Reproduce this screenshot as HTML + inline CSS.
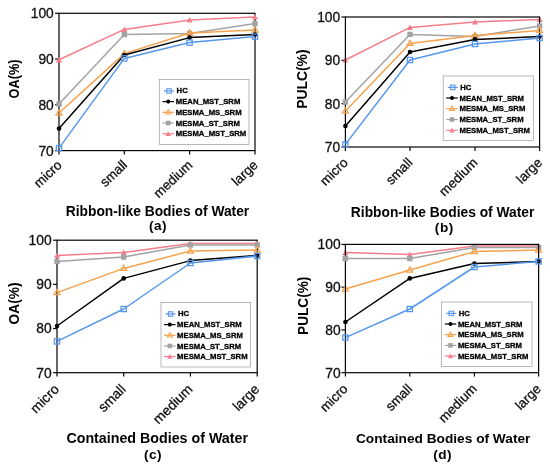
<!DOCTYPE html>
<html><head><meta charset="utf-8"><title>Figure</title>
<style>html,body{margin:0;padding:0;background:#fff}svg{display:block}text{font-family:"Liberation Sans",Arial,sans-serif}</style></head><body>
<svg width="550" height="471" viewBox="0 0 550 471">
<rect width="550" height="471" fill="#fff"/>
<g id="chart-a">
<rect x="59" y="13.3" width="196.00" height="137.30" fill="none" stroke="#050505" stroke-width="1.2"/>
<line x1="55.10" y1="13.30" x2="59.00" y2="13.30" stroke="#050505" stroke-width="1.2"/>
<text x="53.80" y="18.25" font-size="13.8" text-anchor="end" fill="#111111" stroke="#111111" stroke-width="0.3">100</text>
<line x1="55.10" y1="59.07" x2="59.00" y2="59.07" stroke="#050505" stroke-width="1.2"/>
<text x="53.80" y="64.02" font-size="13.8" text-anchor="end" fill="#111111" stroke="#111111" stroke-width="0.3">90</text>
<line x1="55.10" y1="104.83" x2="59.00" y2="104.83" stroke="#050505" stroke-width="1.2"/>
<text x="53.80" y="109.78" font-size="13.8" text-anchor="end" fill="#111111" stroke="#111111" stroke-width="0.3">80</text>
<line x1="55.10" y1="150.60" x2="59.00" y2="150.60" stroke="#050505" stroke-width="1.2"/>
<text x="53.80" y="155.55" font-size="13.8" text-anchor="end" fill="#111111" stroke="#111111" stroke-width="0.3">70</text>
<line x1="59.00" y1="150.60" x2="59.00" y2="154.50" stroke="#050505" stroke-width="1.2"/>
<text transform="translate(62.70 166.00) rotate(-43.5)" font-size="13.4" text-anchor="end" fill="#111111" stroke="#111111" stroke-width="0.3">micro</text>
<line x1="124.30" y1="150.60" x2="124.30" y2="154.50" stroke="#050505" stroke-width="1.2"/>
<text transform="translate(128.00 166.00) rotate(-43.5)" font-size="13.4" text-anchor="end" fill="#111111" stroke="#111111" stroke-width="0.3">small</text>
<line x1="189.60" y1="150.60" x2="189.60" y2="154.50" stroke="#050505" stroke-width="1.2"/>
<text transform="translate(193.30 166.00) rotate(-43.5)" font-size="13.4" text-anchor="end" fill="#111111" stroke="#111111" stroke-width="0.3">medium</text>
<line x1="255.00" y1="150.60" x2="255.00" y2="154.50" stroke="#050505" stroke-width="1.2"/>
<text transform="translate(258.70 166.00) rotate(-43.5)" font-size="13.4" text-anchor="end" fill="#111111" stroke="#111111" stroke-width="0.3">large</text>
<polyline points="59.00,59.80 124.30,29.40 189.60,20.00 255.00,17.00" fill="none" stroke="#f67d8a" stroke-width="1.5" stroke-linejoin="round"/>
<path d="M59.00 56.80L62.00 62.40L56.00 62.40Z" fill="#f67d8a"/>
<path d="M124.30 26.40L127.30 32.00L121.30 32.00Z" fill="#f67d8a"/>
<path d="M189.60 17.00L192.60 22.60L186.60 22.60Z" fill="#f67d8a"/>
<path d="M255.00 14.00L258.00 19.60L252.00 19.60Z" fill="#f67d8a"/>
<polyline points="59.00,104.00 124.30,34.60 189.60,33.60 255.00,23.60" fill="none" stroke="#a3a3a5" stroke-width="1.5" stroke-linejoin="round"/>
<rect x="56.30" y="101.30" width="5.40" height="5.40" fill="#a3a3a5"/>
<rect x="121.60" y="31.90" width="5.40" height="5.40" fill="#a3a3a5"/>
<rect x="186.90" y="30.90" width="5.40" height="5.40" fill="#a3a3a5"/>
<rect x="252.30" y="20.90" width="5.40" height="5.40" fill="#a3a3a5"/>
<polyline points="59.00,113.00 124.30,53.60 189.60,33.00 255.00,30.00" fill="none" stroke="#f6a24c" stroke-width="1.5" stroke-linejoin="round"/>
<path d="M59.00 109.80L62.00 115.00L56.00 115.00Z" fill="none" stroke="#f6a24c" stroke-width="1.25" stroke-linejoin="miter"/>
<path d="M124.30 50.40L127.30 55.60L121.30 55.60Z" fill="none" stroke="#f6a24c" stroke-width="1.25" stroke-linejoin="miter"/>
<path d="M189.60 29.80L192.60 35.00L186.60 35.00Z" fill="none" stroke="#f6a24c" stroke-width="1.25" stroke-linejoin="miter"/>
<path d="M255.00 26.80L258.00 32.00L252.00 32.00Z" fill="none" stroke="#f6a24c" stroke-width="1.25" stroke-linejoin="miter"/>
<polyline points="59.00,128.60 124.30,55.00 189.60,37.60 255.00,34.60" fill="none" stroke="#000000" stroke-width="1.5" stroke-linejoin="round"/>
<circle cx="59.00" cy="128.60" r="2.30" fill="#000000"/>
<circle cx="124.30" cy="55.00" r="2.30" fill="#000000"/>
<circle cx="189.60" cy="37.60" r="2.30" fill="#000000"/>
<circle cx="255.00" cy="34.60" r="2.30" fill="#000000"/>
<polyline points="59.00,148.10 124.30,58.40 189.60,42.60 255.00,36.60" fill="none" stroke="#5697ec" stroke-width="1.5" stroke-linejoin="round"/>
<rect x="56.40" y="145.50" width="5.20" height="5.20" fill="none" stroke="#5697ec" stroke-width="1.30"/>
<rect x="121.70" y="55.80" width="5.20" height="5.20" fill="none" stroke="#5697ec" stroke-width="1.30"/>
<rect x="187.00" y="40.00" width="5.20" height="5.20" fill="none" stroke="#5697ec" stroke-width="1.30"/>
<rect x="252.40" y="34.00" width="5.20" height="5.20" fill="none" stroke="#5697ec" stroke-width="1.30"/>
<rect x="159.3" y="79.4" width="89.70" height="65.00" fill="#fff" stroke="#9a9a9a" stroke-width="0.7"/>
<line x1="164.00" y1="91.00" x2="174.00" y2="91.00" stroke="#5697ec" stroke-width="1.2"/>
<rect x="166.79" y="88.79" width="4.42" height="4.42" fill="none" stroke="#5697ec" stroke-width="1.10"/>
<text x="176.60" y="93.15" font-size="7.7" font-weight="bold" fill="#000" stroke="#000" stroke-width="0.3">HC</text>
<line x1="162.50" y1="101.60" x2="174.00" y2="101.60" stroke="#000000" stroke-width="1.2"/>
<circle cx="168.25" cy="101.60" r="2.04" fill="#000000"/>
<text x="175.80" y="104.25" font-size="7.7" font-weight="bold" fill="#000" stroke="#000" stroke-width="0.3">MEAN_MST_SRM</text>
<line x1="162.50" y1="112.30" x2="174.00" y2="112.30" stroke="#f6a24c" stroke-width="1.2"/>
<path d="M168.25 109.58L170.80 114.00L165.70 114.00Z" fill="none" stroke="#f6a24c" stroke-width="1.06" stroke-linejoin="miter"/>
<text x="175.80" y="114.95" font-size="7.7" font-weight="bold" fill="#000" stroke="#000" stroke-width="0.3">MESMA_MS_SRM</text>
<line x1="162.50" y1="123.00" x2="174.00" y2="123.00" stroke="#a3a3a5" stroke-width="1.2"/>
<rect x="165.96" y="120.70" width="4.59" height="4.59" fill="#a3a3a5"/>
<text x="175.80" y="125.65" font-size="7.7" font-weight="bold" fill="#000" stroke="#000" stroke-width="0.3">MESMA_ST_SRM</text>
<line x1="162.50" y1="133.80" x2="174.00" y2="133.80" stroke="#f67d8a" stroke-width="1.2"/>
<path d="M168.25 131.25L170.80 136.01L165.70 136.01Z" fill="#f67d8a"/>
<text x="175.80" y="136.45" font-size="7.7" font-weight="bold" fill="#000" stroke="#000" stroke-width="0.3">MESMA_MST_SRM</text>
<text transform="translate(18.7 79) rotate(-90) scale(0.907 1)" font-size="14" font-weight="bold" text-anchor="middle" fill="#000">OA(%)</text>
<text x="157.5" y="215.8" font-size="13.8" font-weight="bold" text-anchor="middle" fill="#000">Ribbon-like Bodies of Water</text>
<text x="158" y="230" font-size="13.6" font-weight="bold" text-anchor="middle" fill="#000" letter-spacing="0.5">(a)</text>
</g>
<g id="chart-b">
<line x1="341.50" y1="17.00" x2="345.40" y2="17.00" stroke="#050505" stroke-width="1.2"/>
<text x="340.20" y="21.95" font-size="13.8" text-anchor="end" fill="#111111" stroke="#111111" stroke-width="0.3">100</text>
<line x1="341.50" y1="60.33" x2="345.40" y2="60.33" stroke="#050505" stroke-width="1.2"/>
<text x="340.20" y="65.28" font-size="13.8" text-anchor="end" fill="#111111" stroke="#111111" stroke-width="0.3">90</text>
<line x1="341.50" y1="103.67" x2="345.40" y2="103.67" stroke="#050505" stroke-width="1.2"/>
<text x="340.20" y="108.62" font-size="13.8" text-anchor="end" fill="#111111" stroke="#111111" stroke-width="0.3">80</text>
<line x1="341.50" y1="147.00" x2="345.40" y2="147.00" stroke="#050505" stroke-width="1.2"/>
<text x="340.20" y="151.95" font-size="13.8" text-anchor="end" fill="#111111" stroke="#111111" stroke-width="0.3">70</text>
<line x1="345.40" y1="147.00" x2="345.40" y2="150.90" stroke="#050505" stroke-width="1.2"/>
<text transform="translate(348.70 163.40) rotate(-45)" font-size="13.4" text-anchor="end" fill="#111111" stroke="#111111" stroke-width="0.3">micro</text>
<line x1="410.00" y1="147.00" x2="410.00" y2="150.90" stroke="#050505" stroke-width="1.2"/>
<text transform="translate(413.30 163.40) rotate(-45)" font-size="13.4" text-anchor="end" fill="#111111" stroke="#111111" stroke-width="0.3">small</text>
<line x1="475.00" y1="147.00" x2="475.00" y2="150.90" stroke="#050505" stroke-width="1.2"/>
<text transform="translate(478.30 163.40) rotate(-45)" font-size="13.4" text-anchor="end" fill="#111111" stroke="#111111" stroke-width="0.3">medium</text>
<line x1="539.60" y1="147.00" x2="539.60" y2="150.90" stroke="#050505" stroke-width="1.2"/>
<text transform="translate(542.90 163.40) rotate(-45)" font-size="13.4" text-anchor="end" fill="#111111" stroke="#111111" stroke-width="0.3">large</text>
<polyline points="345.40,60.00 410.00,27.40 475.00,22.00 539.60,19.40" fill="none" stroke="#f67d8a" stroke-width="1.5" stroke-linejoin="round"/>
<path d="M345.40 57.00L348.40 62.60L342.40 62.60Z" fill="#f67d8a"/>
<path d="M410.00 24.40L413.00 30.00L407.00 30.00Z" fill="#f67d8a"/>
<path d="M475.00 19.00L478.00 24.60L472.00 24.60Z" fill="#f67d8a"/>
<path d="M539.60 16.40L542.60 22.00L536.60 22.00Z" fill="#f67d8a"/>
<rect x="345.4" y="17" width="194.20" height="130.00" fill="none" stroke="#050505" stroke-width="1.2"/>
<polyline points="345.40,102.00 410.00,34.40 475.00,36.40 539.60,26.00" fill="none" stroke="#a3a3a5" stroke-width="1.5" stroke-linejoin="round"/>
<rect x="342.70" y="99.30" width="5.40" height="5.40" fill="#a3a3a5"/>
<rect x="407.30" y="31.70" width="5.40" height="5.40" fill="#a3a3a5"/>
<rect x="472.30" y="33.70" width="5.40" height="5.40" fill="#a3a3a5"/>
<rect x="536.90" y="23.30" width="5.40" height="5.40" fill="#a3a3a5"/>
<polyline points="345.40,111.00 410.00,43.40 475.00,35.60 539.60,30.40" fill="none" stroke="#f6a24c" stroke-width="1.5" stroke-linejoin="round"/>
<path d="M345.40 107.80L348.40 113.00L342.40 113.00Z" fill="none" stroke="#f6a24c" stroke-width="1.25" stroke-linejoin="miter"/>
<path d="M410.00 40.20L413.00 45.40L407.00 45.40Z" fill="none" stroke="#f6a24c" stroke-width="1.25" stroke-linejoin="miter"/>
<path d="M475.00 32.40L478.00 37.60L472.00 37.60Z" fill="none" stroke="#f6a24c" stroke-width="1.25" stroke-linejoin="miter"/>
<path d="M539.60 27.20L542.60 32.40L536.60 32.40Z" fill="none" stroke="#f6a24c" stroke-width="1.25" stroke-linejoin="miter"/>
<polyline points="345.40,126.00 410.00,52.00 475.00,39.40 539.60,36.60" fill="none" stroke="#000000" stroke-width="1.5" stroke-linejoin="round"/>
<circle cx="345.40" cy="126.00" r="2.30" fill="#000000"/>
<circle cx="410.00" cy="52.00" r="2.30" fill="#000000"/>
<circle cx="475.00" cy="39.40" r="2.30" fill="#000000"/>
<circle cx="539.60" cy="36.60" r="2.30" fill="#000000"/>
<polyline points="345.40,144.40 410.00,60.00 475.00,44.00 539.60,38.00" fill="none" stroke="#5697ec" stroke-width="1.5" stroke-linejoin="round"/>
<rect x="342.80" y="141.80" width="5.20" height="5.20" fill="none" stroke="#5697ec" stroke-width="1.30"/>
<rect x="407.40" y="57.40" width="5.20" height="5.20" fill="none" stroke="#5697ec" stroke-width="1.30"/>
<rect x="472.40" y="41.40" width="5.20" height="5.20" fill="none" stroke="#5697ec" stroke-width="1.30"/>
<rect x="537.00" y="35.40" width="5.20" height="5.20" fill="none" stroke="#5697ec" stroke-width="1.30"/>
<rect x="443.2" y="76" width="90.10" height="64.60" fill="#fff" stroke="#9a9a9a" stroke-width="0.7"/>
<line x1="447.75" y1="87.40" x2="457.75" y2="87.40" stroke="#5697ec" stroke-width="1.2"/>
<rect x="450.54" y="85.19" width="4.42" height="4.42" fill="none" stroke="#5697ec" stroke-width="1.10"/>
<text x="460.30" y="89.55" font-size="7.7" font-weight="bold" fill="#000" stroke="#000" stroke-width="0.3">HC</text>
<line x1="446.25" y1="98.00" x2="457.75" y2="98.00" stroke="#000000" stroke-width="1.2"/>
<circle cx="452.00" cy="98.00" r="2.04" fill="#000000"/>
<text x="459.50" y="100.65" font-size="7.7" font-weight="bold" fill="#000" stroke="#000" stroke-width="0.3">MEAN_MST_SRM</text>
<line x1="446.25" y1="108.70" x2="457.75" y2="108.70" stroke="#f6a24c" stroke-width="1.2"/>
<path d="M452.00 105.98L454.55 110.40L449.45 110.40Z" fill="none" stroke="#f6a24c" stroke-width="1.06" stroke-linejoin="miter"/>
<text x="459.50" y="111.35" font-size="7.7" font-weight="bold" fill="#000" stroke="#000" stroke-width="0.3">MESMA_MS_SRM</text>
<line x1="446.25" y1="119.50" x2="457.75" y2="119.50" stroke="#a3a3a5" stroke-width="1.2"/>
<rect x="449.70" y="117.20" width="4.59" height="4.59" fill="#a3a3a5"/>
<text x="459.50" y="122.15" font-size="7.7" font-weight="bold" fill="#000" stroke="#000" stroke-width="0.3">MESMA_ST_SRM</text>
<line x1="446.25" y1="130.30" x2="457.75" y2="130.30" stroke="#f67d8a" stroke-width="1.2"/>
<path d="M452.00 127.75L454.55 132.51L449.45 132.51Z" fill="#f67d8a"/>
<text x="459.50" y="132.95" font-size="7.7" font-weight="bold" fill="#000" stroke="#000" stroke-width="0.3">MESMA_MST_SRM</text>
<text transform="translate(307.2 79.1) rotate(-90) scale(0.992 1)" font-size="14" font-weight="bold" text-anchor="middle" fill="#000">PULC(%)</text>
<text x="442.6" y="216.5" font-size="13.8" font-weight="bold" text-anchor="middle" fill="#000">Ribbon-like Bodies of Water</text>
<text x="444.3" y="231.5" font-size="13.6" font-weight="bold" text-anchor="middle" fill="#000" letter-spacing="0.5">(b)</text>
</g>
<g id="chart-c">
<rect x="57" y="240.2" width="200.20" height="132.50" fill="none" stroke="#050505" stroke-width="1.2"/>
<line x1="53.10" y1="240.20" x2="57.00" y2="240.20" stroke="#050505" stroke-width="1.2"/>
<text x="51.60" y="245.15" font-size="13.8" text-anchor="end" fill="#111111" stroke="#111111" stroke-width="0.3">100</text>
<line x1="53.10" y1="284.37" x2="57.00" y2="284.37" stroke="#050505" stroke-width="1.2"/>
<text x="51.60" y="289.32" font-size="13.8" text-anchor="end" fill="#111111" stroke="#111111" stroke-width="0.3">90</text>
<line x1="53.10" y1="328.53" x2="57.00" y2="328.53" stroke="#050505" stroke-width="1.2"/>
<text x="51.60" y="333.48" font-size="13.8" text-anchor="end" fill="#111111" stroke="#111111" stroke-width="0.3">80</text>
<line x1="53.10" y1="372.70" x2="57.00" y2="372.70" stroke="#050505" stroke-width="1.2"/>
<text x="51.60" y="377.65" font-size="13.8" text-anchor="end" fill="#111111" stroke="#111111" stroke-width="0.3">70</text>
<line x1="57.00" y1="372.70" x2="57.00" y2="376.60" stroke="#050505" stroke-width="1.2"/>
<text transform="translate(59.90 390.10) rotate(-45)" font-size="13.8" text-anchor="end" fill="#111111" stroke="#111111" stroke-width="0.3">micro</text>
<line x1="123.70" y1="372.70" x2="123.70" y2="376.60" stroke="#050505" stroke-width="1.2"/>
<text transform="translate(126.60 390.10) rotate(-45)" font-size="13.8" text-anchor="end" fill="#111111" stroke="#111111" stroke-width="0.3">small</text>
<line x1="190.40" y1="372.70" x2="190.40" y2="376.60" stroke="#050505" stroke-width="1.2"/>
<text transform="translate(193.30 390.10) rotate(-45)" font-size="13.8" text-anchor="end" fill="#111111" stroke="#111111" stroke-width="0.3">medium</text>
<line x1="257.20" y1="372.70" x2="257.20" y2="376.60" stroke="#050505" stroke-width="1.2"/>
<text transform="translate(260.10 390.10) rotate(-45)" font-size="13.8" text-anchor="end" fill="#111111" stroke="#111111" stroke-width="0.3">large</text>
<polyline points="57.00,255.40 123.70,252.40 190.40,243.60 257.20,243.60" fill="none" stroke="#f67d8a" stroke-width="1.5" stroke-linejoin="round"/>
<path d="M57.00 252.40L60.00 258.00L54.00 258.00Z" fill="#f67d8a"/>
<path d="M123.70 249.40L126.70 255.00L120.70 255.00Z" fill="#f67d8a"/>
<path d="M190.40 240.60L193.40 246.20L187.40 246.20Z" fill="#f67d8a"/>
<path d="M257.20 240.60L260.20 246.20L254.20 246.20Z" fill="#f67d8a"/>
<polyline points="57.00,261.40 123.70,257.00 190.40,245.00 257.20,245.00" fill="none" stroke="#a3a3a5" stroke-width="1.5" stroke-linejoin="round"/>
<rect x="54.30" y="258.70" width="5.40" height="5.40" fill="#a3a3a5"/>
<rect x="121.00" y="254.30" width="5.40" height="5.40" fill="#a3a3a5"/>
<rect x="187.70" y="242.30" width="5.40" height="5.40" fill="#a3a3a5"/>
<rect x="254.50" y="242.30" width="5.40" height="5.40" fill="#a3a3a5"/>
<polyline points="57.00,292.60 123.70,268.40 190.40,251.00 257.20,250.00" fill="none" stroke="#f6a24c" stroke-width="1.5" stroke-linejoin="round"/>
<path d="M57.00 289.40L60.00 294.60L54.00 294.60Z" fill="none" stroke="#f6a24c" stroke-width="1.25" stroke-linejoin="miter"/>
<path d="M123.70 265.20L126.70 270.40L120.70 270.40Z" fill="none" stroke="#f6a24c" stroke-width="1.25" stroke-linejoin="miter"/>
<path d="M190.40 247.80L193.40 253.00L187.40 253.00Z" fill="none" stroke="#f6a24c" stroke-width="1.25" stroke-linejoin="miter"/>
<path d="M257.20 246.80L260.20 252.00L254.20 252.00Z" fill="none" stroke="#f6a24c" stroke-width="1.25" stroke-linejoin="miter"/>
<polyline points="57.00,326.00 123.70,278.40 190.40,260.60 257.20,255.40" fill="none" stroke="#000000" stroke-width="1.5" stroke-linejoin="round"/>
<circle cx="57.00" cy="326.00" r="2.30" fill="#000000"/>
<circle cx="123.70" cy="278.40" r="2.30" fill="#000000"/>
<circle cx="190.40" cy="260.60" r="2.30" fill="#000000"/>
<circle cx="257.20" cy="255.40" r="2.30" fill="#000000"/>
<polyline points="57.00,341.40 123.70,309.00 190.40,263.00 257.20,256.00" fill="none" stroke="#5697ec" stroke-width="1.5" stroke-linejoin="round"/>
<rect x="54.40" y="338.80" width="5.20" height="5.20" fill="none" stroke="#5697ec" stroke-width="1.30"/>
<rect x="121.10" y="306.40" width="5.20" height="5.20" fill="none" stroke="#5697ec" stroke-width="1.30"/>
<rect x="187.80" y="260.40" width="5.20" height="5.20" fill="none" stroke="#5697ec" stroke-width="1.30"/>
<rect x="254.60" y="253.40" width="5.20" height="5.20" fill="none" stroke="#5697ec" stroke-width="1.30"/>
<rect x="161" y="302.4" width="89.60" height="64.60" fill="#fff" stroke="#9a9a9a" stroke-width="0.7"/>
<line x1="165.55" y1="314.00" x2="175.55" y2="314.00" stroke="#5697ec" stroke-width="1.2"/>
<rect x="168.34" y="311.79" width="4.42" height="4.42" fill="none" stroke="#5697ec" stroke-width="1.10"/>
<text x="177.90" y="316.15" font-size="7.7" font-weight="bold" fill="#000" stroke="#000" stroke-width="0.3">HC</text>
<line x1="164.05" y1="324.60" x2="175.55" y2="324.60" stroke="#000000" stroke-width="1.2"/>
<circle cx="169.80" cy="324.60" r="2.04" fill="#000000"/>
<text x="177.10" y="327.25" font-size="7.7" font-weight="bold" fill="#000" stroke="#000" stroke-width="0.3">MEAN_MST_SRM</text>
<line x1="164.05" y1="335.30" x2="175.55" y2="335.30" stroke="#f6a24c" stroke-width="1.2"/>
<path d="M169.80 332.58L172.35 337.00L167.25 337.00Z" fill="none" stroke="#f6a24c" stroke-width="1.06" stroke-linejoin="miter"/>
<text x="177.10" y="337.95" font-size="7.7" font-weight="bold" fill="#000" stroke="#000" stroke-width="0.3">MESMA_MS_SRM</text>
<line x1="164.05" y1="346.00" x2="175.55" y2="346.00" stroke="#a3a3a5" stroke-width="1.2"/>
<rect x="167.51" y="343.70" width="4.59" height="4.59" fill="#a3a3a5"/>
<text x="177.10" y="348.65" font-size="7.7" font-weight="bold" fill="#000" stroke="#000" stroke-width="0.3">MESMA_ST_SRM</text>
<line x1="164.05" y1="356.50" x2="175.55" y2="356.50" stroke="#f67d8a" stroke-width="1.2"/>
<path d="M169.80 353.95L172.35 358.71L167.25 358.71Z" fill="#f67d8a"/>
<text x="177.10" y="359.15" font-size="7.7" font-weight="bold" fill="#000" stroke="#000" stroke-width="0.3">MESMA_MST_SRM</text>
<text transform="translate(18.8 303.4) rotate(-90) scale(0.982 1)" font-size="14" font-weight="bold" text-anchor="middle" fill="#000">OA(%)</text>
<text x="157.2" y="443.2" font-size="14.25" font-weight="bold" text-anchor="middle" fill="#000">Contained Bodies of Water</text>
<text x="153" y="459.4" font-size="13.6" font-weight="bold" text-anchor="middle" fill="#000" letter-spacing="0.5">(c)</text>
</g>
<g id="chart-d">
<line x1="341.50" y1="244.40" x2="345.40" y2="244.40" stroke="#050505" stroke-width="1.2"/>
<text x="340.60" y="249.35" font-size="13.8" text-anchor="end" fill="#111111" stroke="#111111" stroke-width="0.3">100</text>
<line x1="341.50" y1="287.17" x2="345.40" y2="287.17" stroke="#050505" stroke-width="1.2"/>
<text x="340.60" y="292.12" font-size="13.8" text-anchor="end" fill="#111111" stroke="#111111" stroke-width="0.3">90</text>
<line x1="341.50" y1="329.93" x2="345.40" y2="329.93" stroke="#050505" stroke-width="1.2"/>
<text x="340.60" y="334.88" font-size="13.8" text-anchor="end" fill="#111111" stroke="#111111" stroke-width="0.3">80</text>
<line x1="341.50" y1="372.70" x2="345.40" y2="372.70" stroke="#050505" stroke-width="1.2"/>
<text x="340.60" y="377.65" font-size="13.8" text-anchor="end" fill="#111111" stroke="#111111" stroke-width="0.3">70</text>
<line x1="345.40" y1="372.70" x2="345.40" y2="376.60" stroke="#050505" stroke-width="1.2"/>
<text transform="translate(348.60 389.70) rotate(-45)" font-size="13.4" text-anchor="end" fill="#111111" stroke="#111111" stroke-width="0.3">micro</text>
<line x1="409.80" y1="372.70" x2="409.80" y2="376.60" stroke="#050505" stroke-width="1.2"/>
<text transform="translate(413.00 389.70) rotate(-45)" font-size="13.4" text-anchor="end" fill="#111111" stroke="#111111" stroke-width="0.3">small</text>
<line x1="474.40" y1="372.70" x2="474.40" y2="376.60" stroke="#050505" stroke-width="1.2"/>
<text transform="translate(477.60 389.70) rotate(-45)" font-size="13.4" text-anchor="end" fill="#111111" stroke="#111111" stroke-width="0.3">medium</text>
<line x1="538.60" y1="372.70" x2="538.60" y2="376.60" stroke="#050505" stroke-width="1.2"/>
<text transform="translate(541.80 389.70) rotate(-45)" font-size="13.4" text-anchor="end" fill="#111111" stroke="#111111" stroke-width="0.3">large</text>
<polyline points="345.40,252.40 409.80,254.60 474.40,246.00 538.60,246.00" fill="none" stroke="#f67d8a" stroke-width="1.5" stroke-linejoin="round"/>
<path d="M345.40 249.40L348.40 255.00L342.40 255.00Z" fill="#f67d8a"/>
<path d="M409.80 251.60L412.80 257.20L406.80 257.20Z" fill="#f67d8a"/>
<path d="M474.40 243.00L477.40 248.60L471.40 248.60Z" fill="#f67d8a"/>
<path d="M538.60 243.00L541.60 248.60L535.60 248.60Z" fill="#f67d8a"/>
<polyline points="345.40,258.40 409.80,258.60 474.40,247.40 538.60,247.60" fill="none" stroke="#a3a3a5" stroke-width="1.5" stroke-linejoin="round"/>
<rect x="342.70" y="255.70" width="5.40" height="5.40" fill="#a3a3a5"/>
<rect x="407.10" y="255.90" width="5.40" height="5.40" fill="#a3a3a5"/>
<rect x="471.70" y="244.70" width="5.40" height="5.40" fill="#a3a3a5"/>
<rect x="535.90" y="244.90" width="5.40" height="5.40" fill="#a3a3a5"/>
<polyline points="345.40,289.00 409.80,270.00 474.40,251.60 538.60,250.00" fill="none" stroke="#f6a24c" stroke-width="1.5" stroke-linejoin="round"/>
<path d="M345.40 285.80L348.40 291.00L342.40 291.00Z" fill="none" stroke="#f6a24c" stroke-width="1.25" stroke-linejoin="miter"/>
<path d="M409.80 266.80L412.80 272.00L406.80 272.00Z" fill="none" stroke="#f6a24c" stroke-width="1.25" stroke-linejoin="miter"/>
<path d="M474.40 248.40L477.40 253.60L471.40 253.60Z" fill="none" stroke="#f6a24c" stroke-width="1.25" stroke-linejoin="miter"/>
<path d="M538.60 246.80L541.60 252.00L535.60 252.00Z" fill="none" stroke="#f6a24c" stroke-width="1.25" stroke-linejoin="miter"/>
<rect x="345.4" y="244.4" width="193.20" height="128.30" fill="none" stroke="#050505" stroke-width="1.2"/>
<rect x="342.70" y="255.70" width="5.40" height="5.40" fill="#a3a3a5"/>
<polyline points="345.40,322.00 409.80,278.40 474.40,263.60 538.60,261.40" fill="none" stroke="#000000" stroke-width="1.5" stroke-linejoin="round"/>
<circle cx="345.40" cy="322.00" r="2.30" fill="#000000"/>
<circle cx="409.80" cy="278.40" r="2.30" fill="#000000"/>
<circle cx="474.40" cy="263.60" r="2.30" fill="#000000"/>
<circle cx="538.60" cy="261.40" r="2.30" fill="#000000"/>
<polyline points="345.40,337.60 409.80,309.00 474.40,267.00 538.60,261.40" fill="none" stroke="#5697ec" stroke-width="1.5" stroke-linejoin="round"/>
<rect x="342.80" y="335.00" width="5.20" height="5.20" fill="none" stroke="#5697ec" stroke-width="1.30"/>
<rect x="407.20" y="306.40" width="5.20" height="5.20" fill="none" stroke="#5697ec" stroke-width="1.30"/>
<rect x="471.80" y="264.40" width="5.20" height="5.20" fill="none" stroke="#5697ec" stroke-width="1.30"/>
<rect x="536.00" y="258.80" width="5.20" height="5.20" fill="none" stroke="#5697ec" stroke-width="1.30"/>
<rect x="441.5" y="302" width="90.50" height="64.60" fill="#fff" stroke="#9a9a9a" stroke-width="0.7"/>
<line x1="446.25" y1="313.40" x2="456.25" y2="313.40" stroke="#5697ec" stroke-width="1.2"/>
<rect x="449.04" y="311.19" width="4.42" height="4.42" fill="none" stroke="#5697ec" stroke-width="1.10"/>
<text x="458.70" y="315.55" font-size="7.7" font-weight="bold" fill="#000" stroke="#000" stroke-width="0.3">HC</text>
<line x1="444.75" y1="324.00" x2="456.25" y2="324.00" stroke="#000000" stroke-width="1.2"/>
<circle cx="450.50" cy="324.00" r="2.04" fill="#000000"/>
<text x="457.90" y="326.65" font-size="7.7" font-weight="bold" fill="#000" stroke="#000" stroke-width="0.3">MEAN_MST_SRM</text>
<line x1="444.75" y1="334.70" x2="456.25" y2="334.70" stroke="#f6a24c" stroke-width="1.2"/>
<path d="M450.50 331.98L453.05 336.40L447.95 336.40Z" fill="none" stroke="#f6a24c" stroke-width="1.06" stroke-linejoin="miter"/>
<text x="457.90" y="337.35" font-size="7.7" font-weight="bold" fill="#000" stroke="#000" stroke-width="0.3">MESMA_MS_SRM</text>
<line x1="444.75" y1="345.40" x2="456.25" y2="345.40" stroke="#a3a3a5" stroke-width="1.2"/>
<rect x="448.20" y="343.10" width="4.59" height="4.59" fill="#a3a3a5"/>
<text x="457.90" y="348.05" font-size="7.7" font-weight="bold" fill="#000" stroke="#000" stroke-width="0.3">MESMA_ST_SRM</text>
<line x1="444.75" y1="356.00" x2="456.25" y2="356.00" stroke="#f67d8a" stroke-width="1.2"/>
<path d="M450.50 353.45L453.05 358.21L447.95 358.21Z" fill="#f67d8a"/>
<text x="457.90" y="358.65" font-size="7.7" font-weight="bold" fill="#000" stroke="#000" stroke-width="0.3">MESMA_MST_SRM</text>
<text transform="translate(308.4 305.8) rotate(-90) scale(0.974 1)" font-size="14" font-weight="bold" text-anchor="middle" fill="#000">PULC(%)</text>
<text x="443.2" y="443.2" font-size="13.7" font-weight="bold" text-anchor="middle" fill="#000">Contained Bodies of Water</text>
<text x="442.6" y="459" font-size="13.6" font-weight="bold" text-anchor="middle" fill="#000" letter-spacing="0.5">(d)</text>
</g>
</svg></body></html>
